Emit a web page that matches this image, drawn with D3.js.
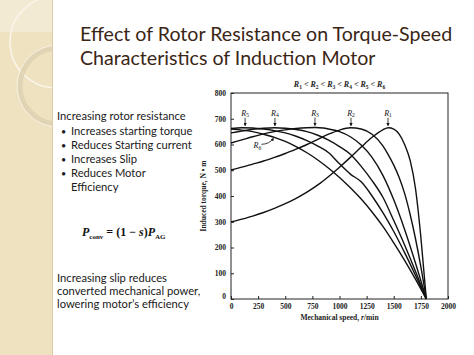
<!DOCTYPE html>
<html><head><meta charset="utf-8">
<script src="https://cdn.jsdelivr.net/npm/d3@7"></script>
<style>
html,body{margin:0;padding:0;background:#fff;}
svg{display:block;}
</style></head>
<body>
<svg id="c" width="474" height="355"></svg>
<script>
// ---- data ----
const titleLines = ["Effect of Rotor Resistance on Torque-Speed", "Characteristics of Induction Motor"];
const bulletHead = "Increasing rotor resistance";
const bullets = ["Increases starting torque", "Reduces Starting current", "Increases Slip", "Reduces Motor", "Efficiency"];
const slipText = ["Increasing slip reduces", "converted mechanical power,", "lowering motor\u2019s efficiency"];
const xTicks = [0, 250, 500, 750, 1000, 1250, 1500, 1750, 2000];
const yTicks = [0, 100, 200, 300, 400, 500, 600, 700, 800];
const seriesNames = ["R1", "R2", "R3", "R4", "R5", "R6"];
const speedR1 = [0,100,200,300,400,500,600,700,800,900,1000,1100,1200,1300,1400,1450,1500,1550,1600,1650,1700,1750,1800];
const torqueR1 = [299,310,322,336,352,370,391,415,443,476,512,550,590,628,657,665,660,640,600,540,430,240,0];
const speedR2 = [0,100,200,300,400,500,600,700,800,900,1000,1100,1200,1300,1400,1450,1500,1550,1600,1650,1700,1750,1800];
const torqueR2 = [501,512,524,536,550,565,582,600,620,640,656,665,660,640,595,560,520,472,410,330,235,125,0];
const speedR3 = [0,100,200,300,400,500,600,700,775,850,900,1000,1100,1200,1300,1400,1500,1600,1700,1800];
const torqueR3 = [606,618,630,641,650,657,662,665,666,664,660,650,630,598,550,480,385,270,140,0];
const speedR4 = [0,100,200,300,400,500,600,700,800,900,1000,1100,1200,1300,1400,1500,1600,1700,1800];
const torqueR4 = [645,652,659,663,665,663,658,650,636,617,592,562,515,460,395,305,210,108,0];
const speedR5 = [0,100,200,300,400,500,600,700,800,900,1000,1100,1200,1300,1400,1500,1600,1700,1800];
const torqueR5 = [662,665,664,660,654,645,632,615,594,568,525,485,455,400,335,262,180,92,0];
const speedR6 = [0,100,200,300,400,500,600,700,800,900,1000,1100,1200,1300,1400,1500,1600,1700,1800];
const torqueR6 = [660,656,650,640,628,612,592,568,540,508,472,432,388,338,282,218,150,77,0];
// peak markers (speed, torque) read from the arrows
const peakSpeeds = [1447, 1106, 774, 405, 130];
const peakTorques = [665, 665, 666, 665, 665];

const series = [
  {name:"R1", s:speedR1, t:torqueR1},
  {name:"R2", s:speedR2, t:torqueR2},
  {name:"R3", s:speedR3, t:torqueR3},
  {name:"R4", s:speedR4, t:torqueR4},
  {name:"R5", s:speedR5, t:torqueR5},
  {name:"R6", s:speedR6, t:torqueR6}
];

const svg = d3.select("#c");

// ---- left decorative strip ----
const defs = svg.append("defs");
defs.append("clipPath").attr("id","strip").append("rect").attr("x",0).attr("y",0).attr("width",52).attr("height",355);
const g0 = svg.append("g").attr("clip-path","url(#strip)");
g0.append("rect").attr("x",0).attr("y",0).attr("width",52).attr("height",355).attr("fill","#eee2c1");
g0.append("rect").attr("x",0).attr("y",0).attr("width",52).attr("height",32).attr("fill","#f3ead3");
g0.append("circle").attr("cx",56).attr("cy",42).attr("r",46).attr("fill","none").attr("stroke","#faf6ec").attr("stroke-width",1.5);
g0.append("circle").attr("cx",58).attr("cy",86).attr("r",38).attr("fill","none").attr("stroke","#ddd1b0").attr("stroke-width",5).attr("opacity",0.8);
g0.append("circle").attr("cx",58).attr("cy",86).attr("r",41).attr("fill","none").attr("stroke","#f7f1e2").attr("stroke-width",1);
svg.append("line").attr("x1",52.5).attr("x2",52.5).attr("y1",0).attr("y2",355).attr("stroke","#d9ccaa").attr("stroke-width",1);

// ---- title ----
const title = svg.append("g").attr("font-family","Lato, 'Open Sans', sans-serif").attr("fill","#3b2616").attr("font-size",19.6);
titleLines.forEach((t,i)=>{
  title.append("text").attr("x",80).attr("y",41+i*24).text(t);
});

// ---- left text ----
const lt = svg.append("g").attr("font-family","Lato, sans-serif").attr("font-size",11.2).attr("fill","#1a1a1a");
lt.append("text").attr("x",57).attr("y",120).text(bulletHead);
bullets.forEach((b,i)=>{
  const y = 134.5 + i*14;
  if (i < 4) lt.append("text").attr("x",61).attr("y",y).attr("font-size",9).text("\u2022");
  lt.append("text").attr("x",71).attr("y",y).text(b);
});
slipText.forEach((t,i)=>{
  lt.append("text").attr("x",57).attr("y",282+i*12.8).text(t);
});
// formula
const f = svg.append("text").attr("x",82).attr("y",236).attr("font-family","'Liberation Serif', 'Times New Roman', serif")
  .attr("font-size",12).attr("font-weight","bold").attr("fill","#111");
f.append("tspan").attr("font-style","italic").text("P");
f.append("tspan").attr("font-size",7).attr("dy",2.5).text("conv");
f.append("tspan").attr("dy",-2.5).text(" = (1 \u2212 ");
f.append("tspan").attr("font-style","italic").text("s");
f.append("tspan").text(")");
f.append("tspan").attr("font-style","italic").text("P");
f.append("tspan").attr("font-size",7).attr("dy",2.5).text("AG");

// ---- chart ----
const X0 = 231, X1 = 448, Y0 = 299, Y1 = 93;
const x = d3.scaleLinear().domain([0,2000]).range([X0,X1]);
const y = d3.scaleLinear().domain([0,800]).range([Y0,Y1]);
const serif = "'Liberation Serif', 'Times New Roman', serif";
const ch = svg.append("g");

ch.append("rect").attr("x",X0).attr("y",Y1).attr("width",X1-X0).attr("height",Y0-Y1)
  .attr("fill","none").attr("stroke","#222").attr("stroke-width",1);

const xAxis = d3.axisBottom(x).tickValues(xTicks).tickSize(-3).tickPadding(5).tickFormat(d3.format("d"));
const gx = ch.append("g").attr("transform",`translate(0,${Y0})`).call(xAxis);
const yAxis = d3.axisLeft(y).tickValues(yTicks).tickSize(-3).tickPadding(5).tickFormat(d3.format("d"));
const gy = ch.append("g").attr("transform",`translate(${X0},0)`).call(yAxis);
[gx,gy].forEach(g=>{
  g.select(".domain").remove();
  g.selectAll(".tick line").attr("stroke","#222");
  g.selectAll("text").attr("font-family",serif).attr("font-size",7.5).attr("font-weight","bold").attr("fill","#222");
});
gy.selectAll(".tick").filter(d=>d===0).select("text").attr("dy","-0.1em");

ch.append("text").attr("x",(X0+X1)/2).attr("y",320).attr("text-anchor","middle")
  .attr("font-family",serif).attr("font-size",7.5).attr("font-weight","bold").attr("fill","#222")
  .text("Mechanical speed, ").append("tspan").attr("font-style","italic").text("r").select(function(){return this.parentNode;})
  .append("tspan").text("/min");
ch.append("text").attr("transform",`translate(206,${(Y0+Y1)/2}) rotate(-90)`).attr("text-anchor","middle")
  .attr("font-family",serif).attr("font-size",7.5).attr("font-weight","bold").attr("fill","#222")
  .text("Induced torque, N \u2022 m");

// ordering label
const ord = ch.append("text").attr("x",(X0+X1)/2).attr("y",87).attr("text-anchor","middle")
  .attr("font-family",serif).attr("font-size",8).attr("font-weight","bold").attr("fill","#222");
seriesNames.forEach((n,i)=>{
  ord.append("tspan").attr("font-style","italic").text("R");
  ord.append("tspan").attr("font-size",5.5).attr("dy",2).text(n.slice(1));
  ord.append("tspan").attr("dy",-2).text(i<seriesNames.length-1 ? " < " : "");
});

// curves
const line = d3.line().x(d=>x(d[0])).y(d=>y(d[1])).curve(d3.curveMonotoneX);
series.forEach(se=>{
  const pts = se.s.map((v,i)=>[v, se.t[i]]);
  ch.append("path").attr("d",line(pts)).attr("fill","none").attr("stroke","#111").attr("stroke-width",1.4);
});

// peak arrows with labels
defs.append("marker").attr("id","ah").attr("viewBox","0 0 6 6").attr("refX",5).attr("refY",3)
  .attr("markerWidth",4).attr("markerHeight",4).attr("orient","auto")
  .append("path").attr("d","M0,0 L6,3 L0,6 Z").attr("fill","#111");
peakSpeeds.forEach((s,i)=>{
  const px = x(s), py = y(peakTorques[i]);
  ch.append("line").attr("x1",px).attr("x2",px).attr("y1",py-10).attr("y2",py-2)
    .attr("stroke","#111").attr("stroke-width",0.8).attr("marker-end","url(#ah)");
  const t = ch.append("text").attr("x",px).attr("y",py-12).attr("text-anchor","middle")
    .attr("font-family",serif).attr("font-size",8).attr("fill","#111");
  t.append("tspan").attr("font-style","italic").text("R");
  t.append("tspan").attr("font-size",5.5).attr("dy",1.5).text(seriesNames[i].slice(1));
});
// R6 label with curved arrow
const ax = x(speedR6[4]), ay = y(torqueR6[4]);
ch.append("path").attr("d",`M${ax-13},${ay+7} Q${ax-5},${ay+7} ${ax-1},${ay+1}`)
  .attr("fill","none").attr("stroke","#111").attr("stroke-width",0.8).attr("marker-end","url(#ah)");
const t6 = ch.append("text").attr("x",ax-17).attr("y",ay+11).attr("text-anchor","middle")
  .attr("font-family",serif).attr("font-size",8).attr("fill","#111");
t6.append("tspan").attr("font-style","italic").text("R");
t6.append("tspan").attr("font-size",5.5).attr("dy",1.5).text("6");
</script>
</body></html>
